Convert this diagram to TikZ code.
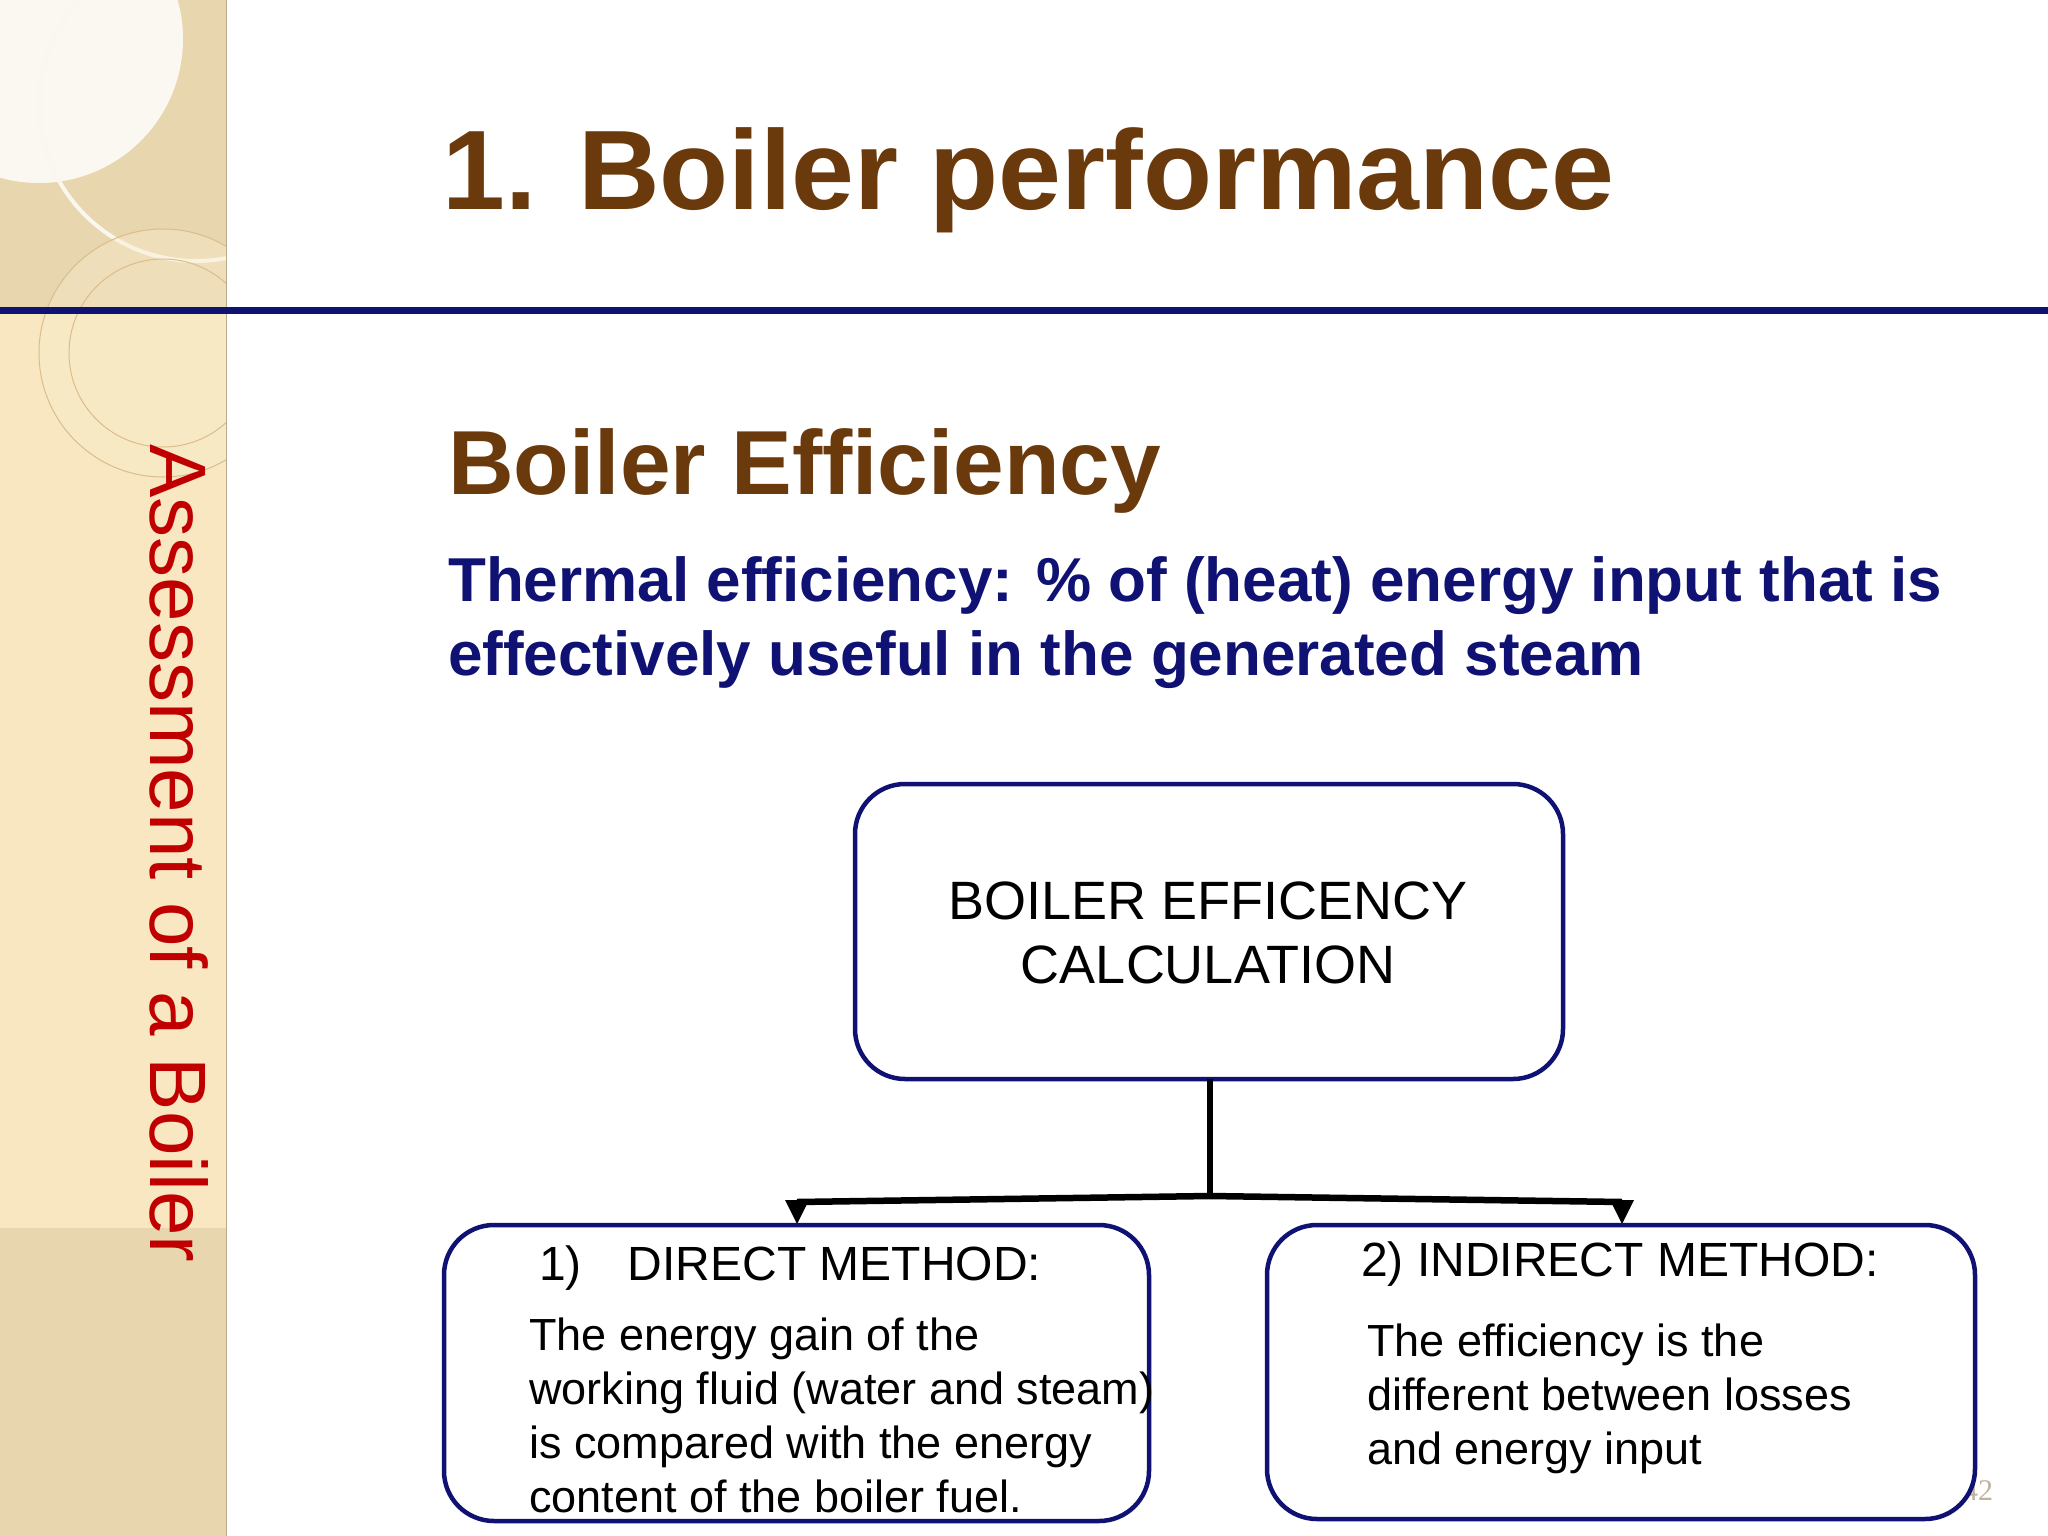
\documentclass[tikz,border=0pt]{standalone}
\usepackage{fontspec}
\setmainfont{Liberation Sans}
\newfontfamily\pgfont{Liberation Serif}
\usetikzlibrary{arrows.meta}
\definecolor{brownT}{HTML}{6B3A0C}
\definecolor{navy}{HTML}{0F1273}
\definecolor{sideA}{HTML}{E7D6AE}
\definecolor{sideB}{HTML}{F8E7C1}
\definecolor{redT}{HTML}{C00000}
\begin{document}
\begin{tikzpicture}[x=1pt,y=-1pt,
  box/.style={draw=navy,line width=4.5pt,rounded corners=50pt,fill=white},
  body/.style={font=\fontsize{45}{54}\selectfont,align=left,anchor=base west,inner sep=0},
  conn/.style={line width=6.5pt,black}]
\useasboundingbox (0,0) rectangle (2048,1536);
\fill[white] (0,0) rectangle (2048,1536);
% sidebar
\fill[sideB] (0,0) rectangle (226,1536);
\fill[sideA] (0,0) rectangle (226,310);
\fill[sideA] (0,1228) rectangle (226,1536);
\begin{scope}
\clip (0,0) rectangle (226,1536);
\fill[white,opacity=0.85] (39,39) circle (144);
\draw[white!80!sideA,line width=4pt] (196,104) circle (157);
\draw[sideA!70!brown,line width=1pt,fill=sideB!80!white,fill opacity=0.4] (163,353) circle (124);
\draw[sideA!70!brown,line width=1pt] (163,353) circle (94);
\end{scope}
\draw[line width=1pt,sideA!80!black] (226,0) -- (226,1536);
% blue rule
\draw[navy,line width=7pt] (0,310) -- (2048,310);
% vertical text
\node[text=redT,font=\fontsize{80}{80}\selectfont,rotate=-90,anchor=west,inner sep=0] (side) at (179,444) {Assessment of a Boiler};
% titles
\node[text=brownT,font=\fontsize{113}{130}\selectfont\bfseries,anchor=base west,inner sep=0] (title) at (442,209) {1. Boiler performance};
\node[text=brownT,font=\fontsize{91}{100}\selectfont\bfseries,anchor=base west,inner sep=0] (sub) at (448,494) {Boiler Efficiency};
\node[text=navy,font=\fontsize{62}{74}\selectfont\bfseries,anchor=base west,inner sep=0,align=left] (therm) at (448,675) {Thermal efficiency: \% of (heat) energy input that is\\effectively useful in the generated steam};
% page number
\node[text=sideA!60!gray,font=\fontsize{30}{30}\selectfont\pgfont,anchor=base west,inner sep=0] (pg) at (1963,1500) {42};
% boxes
\draw[box] (855,784) rectangle (1563,1079);
\node[font=\fontsize{54}{64}\selectfont,align=center,inner sep=0] (top) at (1208,933) {BOILER EFFICENCY\\CALCULATION};
\coordinate (topb) at (1210,1079);
\coordinate (mid) at (1210,1196);
\coordinate (la) at (797,1202);
\coordinate (ra) at (1622,1202);
\draw[conn] (topb) -- (mid);
\draw[conn] (la) -- (mid) -- (ra);
\fill (785,1200) -- (809,1200) -- (797,1224) -- cycle;
\fill (1610,1200) -- (1634,1200) -- (1622,1224) -- cycle;
\draw[box] (444,1225) rectangle (1149,1521);
\draw[box] (1267,1225) rectangle (1975,1519);
\node[font=\fontsize{48}{54}\selectfont,anchor=base west,inner sep=0] (dm) at (539,1280) {1)\hspace{46pt}DIRECT METHOD:};
\node[body] (dt) at (529,1512) {The energy gain of the\\working fluid (water and steam)\\is compared with the energy\\content of the boiler fuel.};
\node[font=\fontsize{48}{54}\selectfont,anchor=base west,inner sep=0] (im) at (1361,1276) {2) INDIRECT METHOD:};
\node[body] (it) at (1367,1464) {The efficiency is the\\different between losses\\and energy input};
\end{tikzpicture}
\end{document}
